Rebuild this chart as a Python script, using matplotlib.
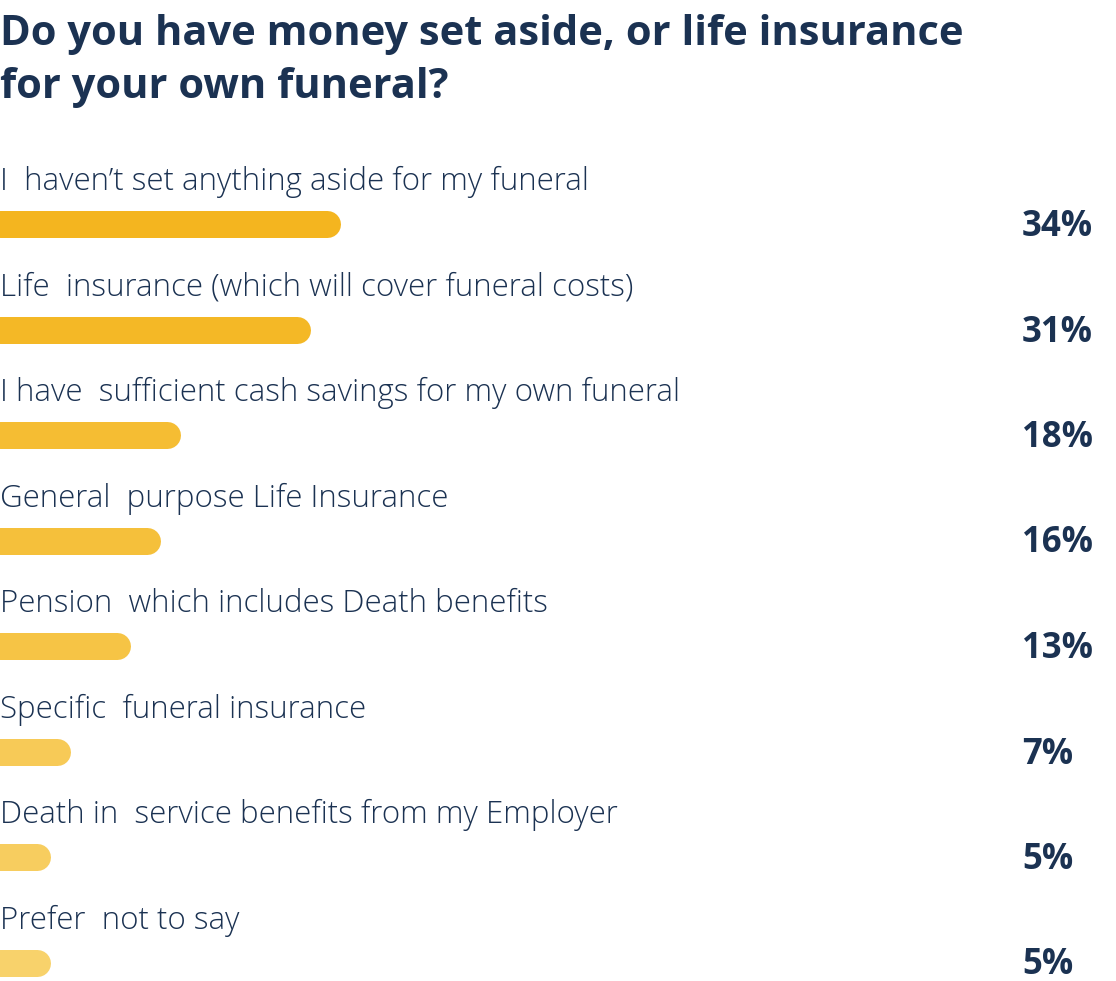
import matplotlib
matplotlib.use("Agg")
import matplotlib.pyplot as plt

TITLE = "Do you have money set aside, or life insurance\nfor your own funeral?"
labels = [
    "I  haven\u2019t set anything aside for my funeral",
    "Life  insurance (which will cover funeral costs)",
    "I have  sufficient cash savings for my own funeral",
    "General  purpose Life Insurance",
    "Pension  which includes Death benefits",
    "Specific  funeral insurance",
    "Death in  service benefits from my Employer",
    "Prefer  not to say",
]
values = [34, 31, 18, 16, 13, 7, 5, 5]
colors = ["#f4b51f", "#f4b826", "#f5bd33", "#f5c03b", "#f6c445", "#f7ca57", "#f7cd5f", "#f8d26b"]

NAVY = "#1b3252"
PX_PER_PCT = 10.0
BAR_H = 27  # px

fig = plt.figure(figsize=(11.16, 9.81), dpi=100)
ax = fig.add_axes([0, 0, 1, 1])
ax.set_xlim(0, 1116)
ax.set_ylim(981, 0)
ax.axis("off")

ax.text(0, 61, TITLE, fontsize=30, fontweight="bold", color=NAVY,
        family="Open Sans", va="center", linespacing=1.4)

lw_pt = BAR_H * 72 / 100
for i, (lab, v, c) in enumerate(zip(labels, values, colors)):
    yc = 224 + i * 105.5
    ax.text(0, yc - 42, lab, fontsize=22.5, color=NAVY, family="Open Sans",
            fontweight="light", va="center")
    ax.plot([0, v * PX_PER_PCT - BAR_H / 2], [yc, yc], color=c, lw=lw_pt,
            solid_capstyle="round")
    ax.text(1022, yc + 3, f"{v}%", fontsize=25, fontweight="bold", color=NAVY,
            family="Open Sans", va="center")

fig.savefig("out.png", dpi=100)
